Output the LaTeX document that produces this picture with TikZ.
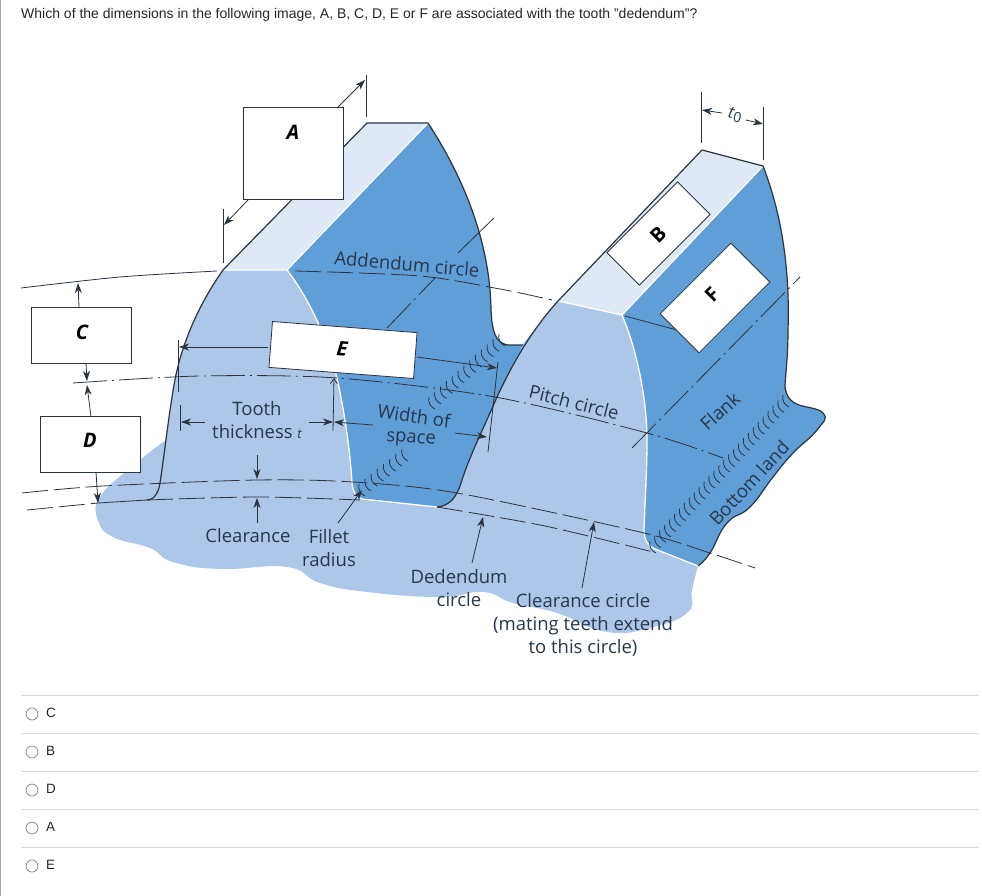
\documentclass[tikz,border=0pt]{standalone}
\usepackage{fontspec}
\setmainfont{Liberation Sans}
\newfontfamily\labelfont{Open Sans}
\usetikzlibrary{calc, arrows.meta}

\definecolor{facedark}{HTML}{5F9ED6}
\definecolor{facemid}{HTML}{ADC7E9}
\definecolor{facelight}{HTML}{DEE8F6}
\definecolor{inkline}{HTML}{2A3340}
\definecolor{inktext}{HTML}{26384C}

\newcommand{\hatchrow}[3]{%
  \foreach \k in {0,...,#3}
    \draw[hatchline] ($(#1)!\k/#3!(#2)$) ++(-3,-6) to[bend right=40] ++(6,12);}

\begin{document}
\begin{tikzpicture}[
        x=1pt, y=-1pt,
        outline/.style={draw=inkline, line width=1.2pt, line join=round},
        whiteedge/.style={draw=white, line width=1.3pt},
        thin line/.style={draw=inkline, line width=0.8pt},
        longdash/.style={thin line, dash pattern=on 26pt off 6pt},
        dashdot/.style={thin line, dash pattern=on 34pt off 5pt on 2pt off 5pt},
        dim/.style={thin line, -{Stealth[length=10pt, width=7pt, inset=3pt]}},
        hatchline/.style={draw=inkline, line width=0.8pt},
        blankbox/.style={draw=inkline, fill=white, line width=0.8pt, minimum width=#1, inner sep=0pt},
        letter/.style={font=\labelfont\bfseries\itshape\fontsize{20}{20}\selectfont, text=black, inner sep=0pt},
        upletter/.style={font=\labelfont\bfseries\fontsize{20}{20}\selectfont, text=black, inner sep=0pt},
        caption/.style={font=\labelfont\fontsize{18.5}{23}\selectfont, text=inktext, align=center, inner sep=0pt},
        answer/.style={font=\fontsize{13.5}{14}\selectfont, text=black!85, anchor=west, inner sep=0pt},
        radio/.style={circle, draw=black!50, line width=0.7pt, minimum size=12pt, inner sep=0pt},
        rulegrey/.style={draw=black!14, line width=0.9pt}
      ]
      \useasboundingbox (0,0) rectangle (982,896);
      \draw[draw=black!35, line width=1.5pt] (0.7,0) -- (0.7,896);

      % question
      \node[answer, font=\fontsize{14}{14}\selectfont] (question) at (21,15) {Which of the dimensions in the following image, A, B, C, D, E or F are associated with the tooth "dedendum"?};

      % base of the gear with the front faces
      \fill[facemid] (223,270) -- (287,270) -- (400,400) -- (518,350) -- (540,323) -- (558,301) -- (622,315) -- (665,340) -- (675,500) -- (698,566)
        -- plot[smooth, tension=0.8] coordinates {(698,566) (692,590) (688,612) (653,627) (607,632) (557,613) (513,603) (483,592) (440,597) (367,592) (320,583) (287,567) (220,569) (173,562) (150,548) (113,537) (98,520) (100,497) (130,468) (166,440)}
        -- (174,385) .. controls (180,350) and (195,310) .. (223,270) -- cycle;

      % top lands
      \fill[facelight] (223,270) -- (367,123) -- (428,123) -- (287,270) -- cycle;
      \fill[facelight] (558,301) -- (702,150) -- (763,166) -- (622,315) -- cycle;

      % dark faces
      \fill[facedark] (428,123) .. controls (462,175) and (490,240) .. (491,310) .. controls (492,330) and (495,345) .. (510,345) -- (523,345)
        .. controls (515,360) and (505,380) .. (497,397) .. controls (485,425) and (470,455) .. (462,480) .. controls (457,497) and (450,506) .. (437,507)
        -- (362,499) .. controls (356,497) and (353,492) .. (352,483) .. controls (350,450) and (345,415) .. (337,378) .. controls (328,340) and (310,300) .. (287,270) -- cycle;
      \fill[facedark] (763,166) .. controls (782,215) and (790,270) .. (788,330) .. controls (788,355) and (786,370) .. (785,385)
        -- plot[smooth, tension=0.8] coordinates {(785,385) (793,402) (823,413) (817,430) (793,453) (773,477) (750,507) (727,523) (710,553) (698,566)}
        -- (655,549) .. controls (648,546) and (644,540) .. (644,530) .. controls (645,500) and (647,470) .. (647,440) .. controls (647,400) and (637,350) .. (622,315) -- cycle;

      % white edges between the faces
      \draw[whiteedge] (428,123) -- (287,270) -- (223,270);
      \draw[whiteedge] (287,270) .. controls (310,300) and (328,340) .. (337,378) .. controls (345,415) and (350,450) .. (352,483) .. controls (353,492) and (356,497) .. (362,499) -- (437,507);
      \draw[whiteedge] (763,166) -- (622,315) -- (558,301);
      \draw[whiteedge] (622,315) .. controls (637,350) and (647,400) .. (647,440) .. controls (647,470) and (645,500) .. (644,530) .. controls (644,540) and (648,546) .. (655,549) -- (698,566);

      % outlines
      \draw[outline] (147,500) .. controls (152,500) and (158,496) .. (160,483) .. controls (165,450) and (168,420) .. (174,385) .. controls (180,350) and (195,310) .. (223,270) -- (367,123) -- (428,123)
        .. controls (462,175) and (490,240) .. (491,310) .. controls (492,330) and (495,345) .. (510,345) -- (523,345);
      \draw[outline] (437,507) .. controls (450,506) and (457,497) .. (462,480) .. controls (470,455) and (485,425) .. (497,397) .. controls (512,365) and (530,332) .. (558,301) -- (702,150) -- (763,166)
        .. controls (782,215) and (790,270) .. (788,330) .. controls (788,355) and (786,370) .. (785,385);
      \draw[outline] plot[smooth, tension=0.8] coordinates {(785,385) (793,402) (823,413) (817,430) (793,453) (773,477) (750,507) (727,523) (710,553) (698,566)};

      % circles
      \draw[thin line] plot[smooth] coordinates {(21,288) (120,277) (217,271)};
      \draw[longdash] plot[smooth] coordinates {(295,271) (420,276) (500,289) (552,300)};
      \draw[thin line] (625,316) -- (677,330);
      \draw[dashdot] plot[smooth] coordinates {(73,383) (200,376) (337,378) (495,397) (647,433) (723,458)};
      \draw[longdash] plot[smooth] coordinates {(22,493) (103,486) (257,480) (353,482) (457,493) (640,532) (710,553) (755,568)};
      \draw[longdash] (27,510) -- (98,503);
      \draw[thin line] (98,503) -- (147,500);
      \draw[longdash] plot[smooth] coordinates {(147,500) (257,497) (360,500)};
      \draw[longdash] plot[smooth] coordinates {(437,507) (545,526) (653,552)};

      % centre lines of the teeth
      \draw[dashdot] (387,328) -- (435,278);
      \draw[thin line] (458,253) -- (494,218);
      \draw[dashdot] (632,448) -- (800,277);

      % fillet hatching
      \hatchrow{362,490}{405,455}{7}
      \hatchrow{432,403}{502,340}{12}
      \hatchrow{653,547}{786,401}{27}

      % boxes
      \node[blankbox=100pt, minimum height=92pt] (boxA) at (293.5,153.5) {};
      \node[blankbox=100pt, minimum height=56pt] (boxC) at (81.7,335.3) {};
      \node[blankbox=100pt, minimum height=56pt] (boxD) at (90.3,444.5) {};
      \node[blankbox=145pt, minimum height=46pt, rotate=-4.4] (boxE) at (343,350) {};
      \node[blankbox=100pt, minimum height=46pt, rotate=45] (boxB) at (658.5,233.5) {};
      \node[blankbox=100pt, minimum height=55pt, rotate=45] (boxF) at (715,298) {};
      \node[letter] (labA) at (293,132) {A};
      \node[letter] (labC) at (82,332) {C};
      \node[letter] (labD) at (90,440) {D};
      \node[letter, rotate=-4.4] (labE) at (342,349) {E};
      \node[upletter, rotate=45] (labB) at (658,235) {B};
      \node[upletter, rotate=45] (labF) at (712,295) {F};

      % dimension ticks
      \coordinate (tickAa) at (223,209);  \coordinate (tickAb) at (223,263);
      \coordinate (tickAc) at (366,75);   \coordinate (tickAd) at (366,117);
      \coordinate (tickEa) at (178,340);  \coordinate (tickEb) at (178,392);
      \coordinate (tickEc) at (498,362);  \coordinate (tickEd) at (488,452);
      \coordinate (tickTa) at (180,405);  \coordinate (tickTb) at (180,431);
      \coordinate (tickTc) at (334,378);  \coordinate (tickTd) at (333,431);
      \coordinate (tickOa) at (701,92);   \coordinate (tickOb) at (701,143);
      \coordinate (tickOc) at (763,107);  \coordinate (tickOd) at (763,160);
      \draw[thin line] (tickAa) -- (tickAb);
      \draw[thin line] (tickAc) -- (tickAd);
      \draw[thin line] (tickEa) -- (tickEb);
      \draw[thin line] (tickEc) -- (tickEd);
      \draw[thin line] (tickTa) -- (tickTb);
      \draw[thin line, -{Straight Barb[length=5pt, width=7pt]}] (tickTd) -- (tickTc);
      \draw[thin line] (tickOa) -- (tickOb);
      \draw[thin line] (tickOc) -- (tickOd);

      % dimension arrows
      \draw[dim] (248,200) -- (224,225);
      \draw[dim] (338,107) -- (365,80);
      \draw[dim] (79,307) -- (78,283);
      \draw[dim] (86,363) -- (87,381);
      \draw[dim] (91,417) -- (87,385);
      \draw[dim] (96,472) -- (98,503);
      \draw[dim] (268,347) -- (179,347);
      \draw[dim] (417,357) -- (497,368);

      % captions
      \node[caption, rotate=-5] (addendum) at (407,264) {Addendum circle};
      \node[caption, rotate=-14] (pitch) at (574,402) {Pitch circle};
      \node[caption] (tooth) at (257,420) {Tooth\\thickness {\itshape\fontsize{13}{13}\selectfont t}};
      \node[caption, rotate=-8] (widthof) at (414,416) {Width of};
      \node[caption, rotate=-4] (spaceof) at (411,440) {space};
      \node[caption] (clear) at (248,536) {Clearance};
      \node[caption] (fillet) at (329,548) {Fillet\\radius};
      \node[caption] (dedendum) at (459,588) {Dedendum\\circle};
      \node[caption] (clearcirc) at (583,625) {Clearance circle\\(mating teeth extend\\to this circle)};
      \node[caption, rotate=42] (flank) at (720,411) {Flank};
      \node[caption, rotate=47] (bottom) at (749,483) {Bottom land};
      \node[caption, font=\labelfont\fontsize{17}{17}\selectfont, rotate=-13] (tnull) at (735,115) {{\itshape t}\raisebox{-2pt}{\fontsize{14}{14}\selectfont 0}};

      % arrows from captions
      \draw[dim] (205,422) -- (181,422);
      \draw[dim] (309,422) -- (333,422);
      \draw[dim] (373,425) -- (334,422);
      \draw[dim] (455,433) -- (487,437);
      \draw[dim] (257,455) -- (257,479);
      \draw[dim] (257,523) -- (257,498);
      \draw[dim] (338,523) -- (362,490);
      \draw[dim] (472,563) -- (483,517);
      \draw[dim] (582,588) -- (594,522);
      \draw[dim] (722,113) -- (702,110);
      \draw[dim] (746,120) -- (763,124);

      % answers
      \foreach \y/\opt [count=\i] in {714/C, 752/B, 790/D, 828/A, 866/E} {
        \draw[rulegrey] (21,\y-19) -- (979,\y-19);
        \node[radio] (radio\i) at (32,\y) {};
        \node[answer] (opt\i) at (46,\y-1) {\opt};
      }
      \end{tikzpicture}
\end{document}
